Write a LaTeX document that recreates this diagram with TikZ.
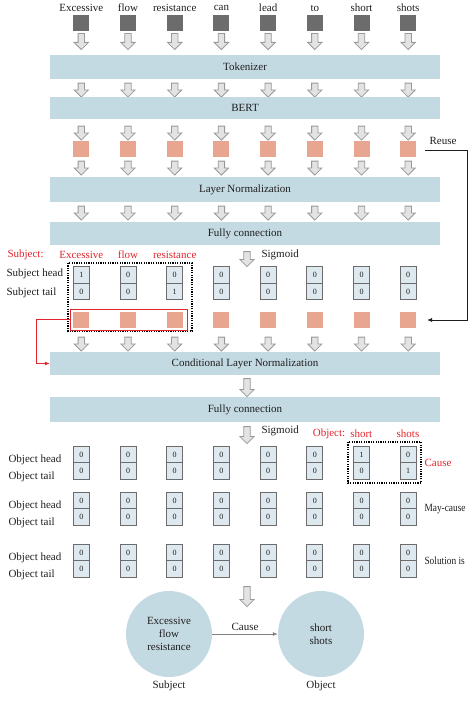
\documentclass[tikz,border=0pt]{standalone}
\usepackage{graphicx}
\usepackage{fontspec}
\setmainfont{Liberation Serif}
\usetikzlibrary{positioning, shapes.arrows, arrows.meta}

\definecolor{barblue}{RGB}{196,218,227}
\definecolor{cellblue}{RGB}{221,233,238}
\definecolor{salmon}{RGB}{232,166,145}
\definecolor{tokgray}{RGB}{108,108,108}
\definecolor{hlred}{RGB}{228,36,44}
\definecolor{inkgray}{RGB}{30,30,30}

\tikzset{
  bar/.style = {fill=barblue, minimum width=390pt, inner sep=0pt},
  down/.style = {single arrow, shape border rotate=270, draw=gray!80, fill=gray!22,
                 line width=0.8pt, inner sep=2.8pt, single arrow head extend=4pt,
                 minimum height=14pt},
  tok/.style = {fill=tokgray, minimum size=16pt, inner sep=0pt},
  emb/.style = {fill=salmon, minimum size=16pt, inner sep=0pt},
  cell/.style = {draw=gray!85!black, fill=cellblue, minimum width=16pt, minimum height=16.5pt,
                 inner sep=0pt, outer sep=0pt, line width=0.7pt, font=\fontsize{8}{9}\selectfont},
  hl/.style = {text=hlred},
  dotbox/.style = {line width=1.2pt, dash pattern=on 1.2pt off 1.2pt},
  link/.style = {draw=inkgray, line width=0.8pt, -{Latex[length=5pt, width=4pt]}},
  ent/.style = {circle, fill=barblue, minimum size=86pt, align=center, inner sep=0pt}
}
\newcommand{\squeezed}[1]{\scalebox{0.85}[1]{#1}}

\begin{document}
\begin{tikzpicture}[x=1pt, y=-1pt, font=\fontsize{11}{13}\selectfont, text=inkgray]
\useasboundingbox (0,0) rectangle (474,709);

% words, tokens and BERT outputs
\foreach \i/\w in {1/Excessive, 2/flow, 3/resistance, 4/can, 5/lead, 6/to, 7/short, 8/shots} {
  \pgfmathsetmacro\x{34.6+46.7*\i}
  \node (w\i) at (\x, 8) {\w};
  \node [tok] (t\i) at (\x, 23) {};
  \node [down, minimum height=16pt] (da\i) at (\x, 40) {};
  \node [down] (db\i) at (\x, 88.5) {};
  \node [down] (dc\i) at (\x, 131.5) {};
  \node [emb] (e\i) at (\x, 149) {};
  \node [down] (dd\i) at (\x, 166.5) {};
  \node [down] (de\i) at (\x, 211.5) {};
  \node [emb] (f\i) at (\x, 320) {};
  \node [down] (df\i) at (\x, 342.5) {};
}

\node [bar, minimum height=24pt] (tokenizer) at (245, 67) {Tokenizer};
\node [bar, minimum height=22pt] (bert) at (245, 108) {BERT};
\node [bar, minimum height=25pt] (ln) at (245, 189.5) {Layer Normalization};
\node [bar, minimum height=23pt] (fc) at (245, 233.5) {Fully connection};

% subject tagging
\node [down, minimum height=15pt] (sig1) at (247, 257.5) {};
\node [anchor=west] (sigtext1) at (258, 255) {Sigmoid};
\node [hl, anchor=west] (subjtag) at (4, 255) {Subject:};
\node [hl] (sw1) at (81.3, 255) {Excessive};
\node [hl] (sw2) at (128, 255) {flow};
\node [hl] (sw3) at (174.7, 255) {resistance};
\node [anchor=west] (shead) at (3, 274) {Subject head};
\node [anchor=west] (stail) at (3, 293) {Subject tail};

\foreach \i/\h/\t in {1/1/0, 2/0/0, 3/0/1, 4/0/0, 5/0/0, 6/0/0, 7/0/0, 8/0/0} {
  \pgfmathsetmacro\x{34.6+46.7*\i}
  \node [cell] (sh\i) at (\x, 275) {\h};
  \node [cell, below=0pt of sh\i] (st\i) {\t};
}

\draw [dotbox] (68,263) rectangle (192,331);
\node [draw=hlred, line width=1pt, minimum width=117pt, minimum height=21pt, inner sep=0pt] (sbox) at (128.5, 319.5) {};

% reuse of the BERT output
\node (reuse) at (443, 141) {Reuse};
\coordinate (rs) at (425, 150);
\coordinate (re) at (427, 320);
\draw [link] (rs) -- (467, 150) |- (re);

\node [bar, minimum height=23pt] (cln) at (245, 363.5) {Conditional Layer Normalization};
\draw [draw=hlred, line width=0.8pt, -{Latex[length=5pt, width=4pt]}, hlred] (sbox.west) -- ++(-33, 0) |- (cln.west);

\node [down, minimum height=18pt] (dg) at (247, 386) {};
\node [bar, minimum height=25pt] (fc2) at (245, 409.5) {Fully connection};
\node [down, minimum height=17pt] (sig2) at (247, 433.5) {};
\node [anchor=west] (sigtext2) at (258, 431) {Sigmoid};
\node [hl] (objtag) at (329, 434) {Object:};
\node [hl] (ow7) at (361.3, 434) {short};
\node [hl] (ow8) at (408, 434) {shots};

% object tagging for each relation
\foreach \r/\y in {a/454.5, b/500.5, c/552.5} {
  \node [anchor=west] (oh\r) at (5, \y+5.5) {Object head};
  \node [anchor=west] (ot\r) at (5, \y+22.5) {Object tail};
}
\node [hl, anchor=west] (rela) at (421, 463) {Cause};
\node [anchor=west] (relb) at (421, 509) {\squeezed{May-cause}};
\node [anchor=west] (relc) at (421, 561) {\squeezed{Solution is}};

\foreach \i/\h/\t in {1/0/0, 2/0/0, 3/0/0, 4/0/0, 5/0/0, 6/0/0, 7/1/0, 8/0/1} {
  \pgfmathsetmacro\x{34.6+46.7*\i}
  \node [cell] (oha\i) at (\x, 454.5) {\h};
  \node [cell, below=0pt of oha\i] (ota\i) {\t};
  \node [cell] (ohb\i) at (\x, 500.5) {0};
  \node [cell, below=0pt of ohb\i] (otb\i) {0};
  \node [cell] (ohc\i) at (\x, 552.5) {0};
  \node [cell, below=0pt of ohc\i] (otc\i) {0};
}
\draw [dotbox] (348,442) rectangle (421,483);

% extracted triple
\node [down, minimum height=20pt] (dh) at (247, 595) {};
\node [ent] (subj) at (169, 634) {Excessive\\flow\\resistance};
\node [ent] (obj) at (321, 634) {short\\shots};
\draw [link, draw=gray] (subj) -- (obj) node [midway, above, text=inkgray] {Cause};
\node (subjlab) at (169, 686) {Subject};
\node (objlab) at (321, 686) {Object};
\end{tikzpicture}
\end{document}
